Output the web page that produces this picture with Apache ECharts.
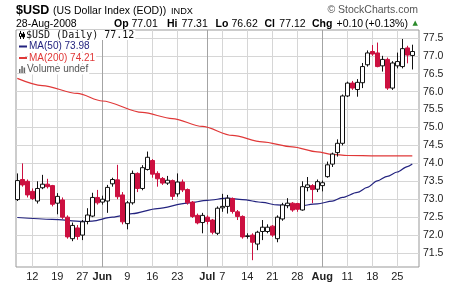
<!DOCTYPE html>
<html>
<head>
<meta charset="utf-8">
<script src="https://cdn.jsdelivr.net/npm/echarts@6/dist/echarts.min.js"></script>
<style>
  html, body { margin: 0; padding: 0; background: #fff; }
  #chart { width: 460px; height: 284px; }
</style>
</head>
<body>
<div id="chart"></div>
<script>
// trading days shown on the chart
const dates = [
  'May 7', 'May 8', 'May 9', 'May 12', 'May 13', 'May 14', 'May 15', 'May 16', 'May 19', 'May 20',
  'May 21', 'May 22', 'May 23', 'May 27', 'May 28', 'May 29', 'May 30', 'Jun 2', 'Jun 3', 'Jun 4',
  'Jun 5', 'Jun 6', 'Jun 9', 'Jun 10', 'Jun 11', 'Jun 12', 'Jun 13', 'Jun 16', 'Jun 17', 'Jun 18',
  'Jun 19', 'Jun 20', 'Jun 23', 'Jun 24', 'Jun 25', 'Jun 26', 'Jun 27', 'Jun 30', 'Jul 1', 'Jul 2',
  'Jul 3', 'Jul 7', 'Jul 8', 'Jul 9', 'Jul 10', 'Jul 11', 'Jul 14', 'Jul 15', 'Jul 16', 'Jul 17',
  'Jul 18', 'Jul 21', 'Jul 22', 'Jul 23', 'Jul 24', 'Jul 25', 'Jul 28', 'Jul 29', 'Jul 30', 'Jul 31',
  'Aug 1', 'Aug 4', 'Aug 5', 'Aug 6', 'Aug 7', 'Aug 8', 'Aug 11', 'Aug 12', 'Aug 13', 'Aug 14',
  'Aug 15', 'Aug 18', 'Aug 19', 'Aug 20', 'Aug 21', 'Aug 22', 'Aug 25', 'Aug 26', 'Aug 27', 'Aug 28'
]
const opens = [
  72.99, 73.55, 73.50, 73.22, 72.95, 73.32, 73.42, 73.38, 72.89, 72.98,
  72.50, 71.90, 72.20, 72.00, 72.38, 72.53, 73.05, 72.92, 72.95, 73.43,
  73.54, 73.12, 72.32, 72.90, 73.72, 73.30, 73.83, 74.08, 73.72, 73.58,
  73.45, 73.52, 73.15, 73.48, 73.27, 72.92, 72.55, 72.35, 72.50, 72.42,
  72.05, 72.76, 72.80, 73.02, 72.65, 72.52, 71.96, 72.00, 71.75, 72.10,
  72.10, 72.25, 71.90, 72.45, 72.82, 72.89, 72.88, 72.70, 73.33, 73.38,
  73.28, 73.38, 73.63, 73.98, 74.30, 74.56, 75.88, 76.24, 76.06, 76.25,
  76.75, 77.12, 77.08, 76.72, 76.90, 76.10, 76.72, 76.70, 77.22, 77.01
]
const closes = [
  73.52, 73.40, 73.12, 73.02, 73.30, 73.42, 73.35, 72.86, 73.08, 72.50,
  71.95, 72.27, 71.96, 72.37, 72.56, 73.05, 72.90, 73.00, 73.33, 73.55,
  73.07, 72.37, 72.90, 73.72, 73.30, 73.88, 74.17, 73.70, 73.57, 73.45,
  73.53, 73.08, 73.48, 73.26, 72.90, 72.52, 72.34, 72.55, 72.38, 72.08,
  72.75, 72.80, 73.03, 72.66, 72.52, 71.95, 71.98, 71.80, 72.08, 72.22,
  72.22, 72.00, 72.50, 72.84, 72.89, 72.70, 72.72, 73.35, 73.40, 73.27,
  73.49, 73.46, 73.96, 74.26, 74.56, 75.88, 76.24, 76.10, 76.26, 76.70,
  77.08, 77.05, 76.70, 76.90, 76.10, 76.80, 76.84, 77.20, 77.02, 77.12
]
const lows = [
  72.95, 73.35, 73.05, 72.98, 72.88, 73.28, 73.30, 72.80, 72.58, 72.45,
  71.90, 71.83, 71.87, 71.86, 72.30, 72.50, 72.85, 72.85, 72.62, 73.35,
  73.00, 72.30, 72.16, 72.85, 73.20, 73.25, 73.80, 73.60, 73.35, 73.40,
  73.40, 72.98, 73.07, 73.20, 72.85, 72.48, 72.30, 72.05, 72.30, 72.02,
  72.00, 72.65, 72.60, 72.60, 72.42, 71.90, 71.90, 71.30, 71.58, 71.86,
  72.05, 71.95, 71.80, 72.40, 72.75, 72.65, 72.65, 72.68, 73.22, 72.89,
  73.20, 73.22, 73.60, 73.90, 74.19, 74.50, 75.85, 76.05, 75.86, 76.10,
  76.70, 77.00, 76.68, 76.56, 76.05, 76.05, 76.65, 76.65, 76.79, 76.62
]
const highs = [
  73.72, 74.00, 73.55, 73.30, 73.50, 73.68, 73.57, 73.40, 73.17, 73.05,
  72.55, 72.35, 72.28, 72.42, 72.75, 73.18, 73.26, 73.10, 73.40, 73.60,
  73.96, 73.20, 72.95, 73.80, 73.75, 73.95, 74.33, 74.12, 73.78, 73.62,
  73.65, 73.55, 73.72, 73.55, 73.30, 72.95, 72.60, 72.62, 72.55, 72.45,
  72.80, 73.15, 73.12, 73.05, 72.70, 72.55, 72.05, 72.05, 72.12, 72.42,
  72.30, 72.28, 72.55, 72.90, 73.03, 72.92, 72.90, 73.50, 73.62, 73.42,
  73.55, 73.52, 74.05, 74.30, 74.67, 75.92, 76.28, 76.30, 76.35, 76.80,
  77.15, 77.30, 77.37, 77.00, 76.95, 76.85, 77.09, 77.47, 77.28, 77.31
]
// moving averages at these days
const ma50Dates = ['May 7', 'May 16', 'May 27', 'May 29', 'Jun 4', 'Jun 10', 'Jun 17', 'Jun 25', 'Jul 1', 'Jul 8',
  'Jul 11', 'Jul 17', 'Jul 22', 'Jul 28', 'Aug 1', 'Aug 6', 'Aug 8', 'Aug 13', 'Aug 15', 'Aug 19', 'Aug 21', 'Aug 25', 'Aug 27', 'Aug 28']
const ma50Values = [72.49, 72.44, 72.38, 72.39, 72.50, 72.60, 72.74, 72.89, 72.97, 73.03,
  72.99, 72.91, 72.84, 72.81, 72.87, 72.95, 73.05, 73.19, 73.33, 73.51, 73.64, 73.76, 73.91, 73.98]
const ma200Dates = ['May 7', 'May 14', 'May 23', 'Jun 2', 'Jun 12', 'Jun 20', 'Jun 30', 'Jul 9', 'Jul 17', 'Jul 25',
  'Aug 1', 'Aug 6', 'Aug 11', 'Aug 19', 'Aug 28']
const ma200Values = [76.37, 76.17, 75.95, 75.74, 75.42, 75.25, 75.03, 74.78, 74.60, 74.46,
  74.32, 74.25, 74.22, 74.21, 74.21]
// axis labels
const tickDates = ['May 12', 'May 19', 'May 27', 'Jun 2', 'Jun 9', 'Jun 16', 'Jun 23', 'Jul 1',
  'Jul 7', 'Jul 14', 'Jul 21', 'Jul 28', 'Aug 4', 'Aug 11', 'Aug 18', 'Aug 25']
const tickLabels = ['12', '19', '27', 'Jun', '9', '16', '23', 'Jul', '7', '14', '21', '28', 'Aug', '11', '18', '25']
const monthDates = ['Jun 2', 'Jul 1', 'Aug 4']
const yTicks = [71.5, 72.0, 72.5, 73.0, 73.5, 74.0, 74.5, 75.0, 75.5, 76.0, 76.5, 77.0, 77.5]

const idx = (d) => dates.indexOf(d)
const tickIdx = tickDates.map(idx)
const monthIdx = monthDates.map(idx)

const chart = echarts.init(document.getElementById('chart'))

const RED = '#cc1040'
const NAVY = '#23237f'
const MARED = '#e03838'
const sans = '"Liberation Sans", Arial, sans-serif'

// header texts
const txt = (x, y, text, font, fill, extra) => ({
  type: 'text', x: x, y: y, z: 100,
  style: Object.assign({ text: text, font: font, fill: fill || '#000', verticalAlign: 'middle' }, extra || {})
})

const header = [
  txt(16, 10.5, '$USD', 'bold 12.5px ' + sans),
  txt(53, 11.3, '(US Dollar Index (EOD))', '10.5px ' + sans),
  txt(171, 11.6, 'INDX', '9.2px ' + sans),
  txt(418, 10.5, '\u00a9 StockCharts.com', '10.5px ' + sans, '#555', { align: 'right' }),
  txt(16, 24, '28-Aug-2008', '10.5px ' + sans),
  txt(114, 24, 'Op', 'bold 10.5px ' + sans),
  txt(131.5, 24, '77.01', '10.5px ' + sans),
  txt(167, 24, 'Hi', 'bold 10.5px ' + sans),
  txt(181.5, 24, '77.31', '10.5px ' + sans),
  txt(215.5, 24, 'Lo', 'bold 10.5px ' + sans),
  txt(231.5, 24, '76.62', '10.5px ' + sans),
  txt(264.5, 24, 'Cl', 'bold 10.5px ' + sans),
  txt(279.3, 24, '77.12', '10.5px ' + sans),
  txt(312, 24, 'Chg', 'bold 10.5px ' + sans),
  txt(336.5, 24, '+0.10', '10.5px ' + sans),
  txt(365, 24, '(+0.13%)', '10.5px ' + sans),
  txt(412.5, 23.5, '\u25b2', '7px "DejaVu Sans"', '#2a8a2a')
]

// legend inside the plot
const legend = [
  txt(25, 35, '$USD (Daily) 77.12', '10px "DejaVu Sans Mono"', '#111', { backgroundColor: '#fff', padding: [0, 1] }),
  txt(28, 46.5, 'MA(50) 73.98', '10px ' + sans, NAVY, { backgroundColor: '#fff', padding: [0, 1] }),
  txt(28, 58, 'MA(200) 74.21', '10px ' + sans, MARED, { backgroundColor: '#fff', padding: [0, 1] }),
  txt(26, 69.5, 'Volume undef', '10px ' + sans, '#555', { backgroundColor: '#fff', padding: [0, 1] }),
  { type: 'rect', z: 100, shape: { x: 17, y: 30.5, width: 8, height: 42 }, style: { fill: '#fff' } },
  { type: 'line', z: 101, shape: { x1: 20.5, y1: 31, x2: 20.5, y2: 39 }, style: { stroke: '#000', lineWidth: 1 } },
  { type: 'rect', z: 102, shape: { x: 19.5, y: 33.5, width: 2, height: 3 }, style: { fill: '#fff', stroke: '#000', lineWidth: 1 } },
  { type: 'line', z: 101, shape: { x1: 23.5, y1: 32, x2: 23.5, y2: 39 }, style: { stroke: '#000', lineWidth: 1 } },
  { type: 'rect', z: 102, shape: { x: 22.5, y: 34, width: 2, height: 3 }, style: { fill: '#000', stroke: '#000', lineWidth: 1 } },
  { type: 'line', z: 101, shape: { x1: 19, y1: 46.5, x2: 27, y2: 46.5 }, style: { stroke: NAVY, lineWidth: 2 } },
  { type: 'line', z: 101, shape: { x1: 19, y1: 58, x2: 27, y2: 58 }, style: { stroke: MARED, lineWidth: 2 } },
  { type: 'rect', z: 101, shape: { x: 19, y: 69, width: 1.5, height: 4 }, style: { fill: '#666' } },
  { type: 'rect', z: 101, shape: { x: 21.3, y: 66, width: 1.5, height: 7 }, style: { fill: '#666' } },
  { type: 'rect', z: 101, shape: { x: 23.6, y: 67.5, width: 1.5, height: 5.5 }, style: { fill: '#666' } }
]

chart.setOption({
  animation: false,
  backgroundColor: '#fff',
  grid: {
    left: 16, right: 41, top: 30, bottom: 17,
    show: true, borderColor: '#999', borderWidth: 1
  },
  xAxis: [{
    type: 'value',
    min: -0.26,
    max: 80.34,
    axisLine: { show: false },
    axisTick: { show: false, customValues: tickIdx },
    axisLabel: {
      customValues: tickIdx,
      margin: 4,
      color: '#222',
      fontFamily: 'Liberation Sans',
      fontSize: 11,
      formatter: function (v) {
        const k = tickIdx.indexOf(v)
        if (k < 0) return ''
        return monthIdx.indexOf(v) >= 0 ? '{m|' + tickLabels[k] + '}' : tickLabels[k]
      },
      rich: { m: { fontWeight: 'bold', fontSize: 11, fontFamily: 'Liberation Sans', color: '#222' } }
    },
    splitLine: { show: true, lineStyle: { color: '#d6d6d6', width: 1 } }
  }, {
    type: 'value',
    min: -0.26,
    max: 80.34,
    axisLine: { show: false },
    axisLabel: { show: false, customValues: monthIdx },
    axisTick: { show: false, customValues: monthIdx },
    splitLine: { show: true, lineStyle: { color: '#a4a4a4', width: 1 } }
  }],
  yAxis: {
    type: 'value',
    position: 'right',
    min: 71.11,
    max: 77.72,
    axisLine: { show: false },
    axisTick: { show: false, customValues: yTicks },
    axisLabel: {
      customValues: yTicks,
      margin: 4,
      color: '#222',
      fontFamily: 'Liberation Sans',
      fontSize: 10.5,
      formatter: (v) => v.toFixed(1)
    },
    splitLine: { show: true, lineStyle: { color: '#d6d6d6', width: 1 } }
  },
  series: [
    {
      type: 'line',
      data: ma200Dates.map((d, k) => [idx(d), ma200Values[k]]),
      symbol: 'none',
      smooth: 0.3,
      smoothMonotone: 'x',
      lineStyle: { color: MARED, width: 1.2 },
      z: 3
    },
    {
      type: 'line',
      data: ma50Dates.map((d, k) => [idx(d), ma50Values[k]]),
      symbol: 'none',
      smooth: 0.3,
      smoothMonotone: 'x',
      lineStyle: { color: NAVY, width: 1.2 },
      z: 3
    },
    {
      type: 'candlestick',
      data: dates.map((d, i) => [i, opens[i], closes[i], lows[i], highs[i]]),
      barWidth: 4,
      itemStyle: {
        color: '#fff',
        color0: RED,
        borderColor: '#111',
        borderColor0: RED,
        borderWidth: 1
      },
      z: 4
    }
  ],
  graphic: header.concat(legend)
})
</script>
</body>
</html>
